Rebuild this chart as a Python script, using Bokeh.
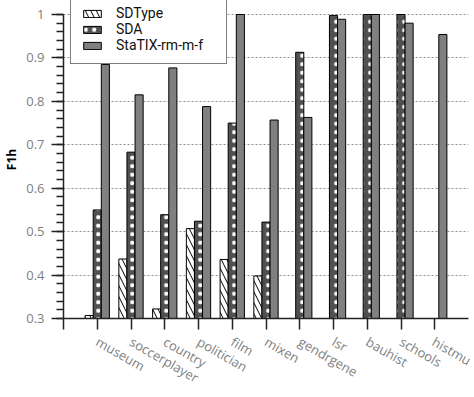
import math
import numpy as np
from bokeh.plotting import figure
from bokeh.models import FixedTicker, Legend, LegendItem, ColumnDataSource
from bokeh.transform import dodge
from bokeh.embed import file_html
from bokeh.resources import INLINE

nan = float("nan")

categories = ["museum", "soccerplayer", "country", "politician", "film", "mixen",
              "gendrgene", "lsr", "bauhist", "schools", "histmu"]
sdtype = [0.307, 0.437, 0.322, 0.507, 0.436, 0.398, nan, nan, nan, nan, nan]
sda = [0.550, 0.683, 0.539, 0.524, 0.750, 0.522, 0.913, 0.998, 1.0, 1.0, nan]
statix = [0.885, 0.815, 0.877, 0.788, 1.0, 0.757, 0.763, 0.989, 1.0, 0.980, 0.954]
series_names = ["SDType", "SDA", "StaTIX-rm-m-f"]
y_ticks = [0.3, 0.4, 0.5, 0.6, 0.7, 0.8, 0.9, 1.0]
y_tick_labels = ["0.3", "0.4", "0.5", "0.6", "0.7", "0.8", "0.9", "1"]
y_label = "F1h"

FONT = "Open Sans"

positions = list(range(1, len(categories) + 1))
src = ColumnDataSource(dict(x=positions, sdtype=sdtype, sda=sda, statix=statix))

# frame spans the full canvas height above the axis; value 1.0 sits 14px below the top
frame_h = 318.0
y_top = 1.0 + (1.0 - 0.3) * 14.0 / (frame_h - 14.0)

p = figure(width=474, height=397, x_range=(0, 12), y_range=(0.3, y_top),
           output_backend="svg", toolbar_location=None,
           min_border_left=62, min_border_right=6, min_border_top=0,
           min_border_bottom=79)
p.outline_line_color = None
p.background_fill_color = "white"

bw = 0.24
r1 = p.vbar(x=dodge("x", -bw, range=p.x_range), top="sdtype", width=bw, source=src,
            fill_color="white", line_color="black", line_width=1,
            hatch_pattern="left_diagonal_line", hatch_color="black",
            hatch_scale=11, hatch_weight=1)
r2 = p.vbar(x=dodge("x", 0, range=p.x_range), top="sda", width=bw, source=src,
            fill_color="#505050", line_color="black", line_width=1,
            hatch_pattern="dot", hatch_color="white",
            hatch_scale=8.5, hatch_weight=2.2)
r3 = p.vbar(x=dodge("x", bw, range=p.x_range), top="statix", width=bw, source=src,
            fill_color="#808080", line_color="black", line_width=1)

# axes
p.xaxis.ticker = FixedTicker(ticks=[0] + positions)
overrides = {0: ""}
for pos, c in zip(positions, categories):
    overrides[pos] = c
p.xaxis.major_label_overrides = overrides
p.xaxis.major_label_orientation = -0.52
p.xaxis.major_tick_out = 11
p.xaxis.major_tick_in = 0
p.xaxis.major_label_standoff = 11

minor = [round(v, 2) for v in np.arange(0.3, 1.0001, 0.02)]
p.yaxis.ticker = FixedTicker(ticks=y_ticks, minor_ticks=minor)
p.yaxis.bounds = (0.3, 1.0)
p.yaxis.major_label_overrides = {t: l for t, l in zip(y_ticks, y_tick_labels)}
p.yaxis.major_tick_out = 12
p.yaxis.major_tick_in = 0
p.yaxis.minor_tick_out = 7
p.yaxis.minor_tick_in = 0
p.yaxis.major_label_standoff = 7
p.yaxis.axis_label = y_label
p.yaxis.axis_label_standoff = 3
p.yaxis.axis_label_text_font = FONT
p.yaxis.axis_label_text_font_style = "bold"
p.yaxis.axis_label_text_font_size = "12px"
p.yaxis.axis_label_text_color = "black"

for ax in (p.xaxis, p.yaxis):
    ax.axis_line_color = "#222222"
    ax.axis_line_width = 1.5
    ax.major_tick_line_color = "#222222"
    ax.major_tick_line_width = 1.5
    ax.minor_tick_line_color = "#222222"
    ax.minor_tick_line_width = 1.5
    ax.major_label_text_font = FONT
    ax.major_label_text_font_size = "13px"
    ax.major_label_text_color = "#808080"
p.xaxis.minor_tick_line_color = None

p.xgrid.visible = False
p.ygrid.bounds = (0.3, 1.0)
p.ygrid.grid_line_color = "#909090"
p.ygrid.grid_line_dash = "2 2"
p.ygrid.grid_line_width = 1

legend = Legend(items=[LegendItem(label=n, renderers=[r]) for n, r in zip(series_names, [r1, r2, r3])],
                location=(7, 254), border_line_color="black", border_line_width=1,
                background_fill_color="white", background_fill_alpha=1.0,
                padding=10, spacing=0, margin=0, glyph_width=22, glyph_height=9,
                label_height=16, label_standoff=13, label_width=100,
                label_text_font="Roboto", label_text_font_size="14px",
                label_text_color="#111111")
p.add_layout(legend)

open("out.html", "w").write(file_html(p, INLINE))
